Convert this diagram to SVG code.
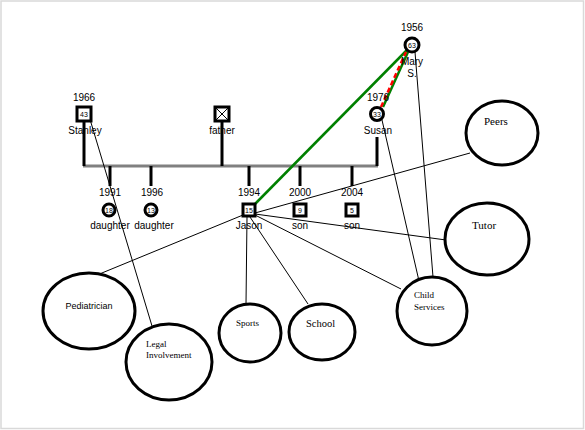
<svg xmlns="http://www.w3.org/2000/svg" width="585" height="430" viewBox="0 0 585 430">
<style>
.lbl{font-family:"Liberation Sans",Arial,sans-serif;font-size:10px;fill:#000;text-anchor:middle}
.age{font-family:"Liberation Sans",Arial,sans-serif;font-size:7px;fill:#000;text-anchor:middle}
.ser{font-family:"Liberation Serif","Times New Roman",serif;font-size:10px;fill:#000}
.eco{fill:#fff;stroke:#000;stroke-width:3}
.thin{stroke:#000;stroke-width:1;fill:none}
.stem{stroke:#000;stroke-width:3}
.m{fill:#fff;stroke:#000;stroke-width:3}
</style>
<rect x="1" y="1" width="582.5" height="427.5" fill="#fff" stroke="#d9d9d9" stroke-width="1.5"/>
<g id="connectors">
<line x1="83" y1="166" x2="378" y2="166" stroke="#808080" stroke-width="3"/>
<line class="stem" x1="84" y1="122" x2="84" y2="166"/>
<line class="stem" x1="222" y1="122" x2="222" y2="166"/>
<line class="stem" x1="377" y1="137" x2="377" y2="166"/>
<line class="stem" x1="110" y1="166" x2="110" y2="186"/>
<line class="stem" x1="151" y1="166" x2="151" y2="186"/>
<line class="stem" x1="249" y1="166" x2="249" y2="186"/>
<line class="stem" x1="300" y1="166" x2="300" y2="186"/>
<line class="stem" x1="352" y1="166" x2="352" y2="186"/>
<line x1="255" y1="204" x2="407" y2="50" stroke="#008000" stroke-width="2.5"/>
<line x1="383" y1="107" x2="408" y2="52" stroke="#008000" stroke-width="2.5"/>
<line x1="381" y1="107" x2="406" y2="52" stroke="#ff0000" stroke-width="2.5" stroke-dasharray="5,3"/>
<line class="thin" x1="415" y1="52" x2="433" y2="277"/>
<line class="thin" x1="382" y1="120" x2="419" y2="281"/>
<line class="thin" x1="89" y1="116" x2="152" y2="326"/>
<line class="thin" x1="255" y1="213" x2="470" y2="153"/>
<line class="thin" x1="255" y1="214" x2="446" y2="240"/>
<line class="thin" x1="255" y1="215" x2="401" y2="289"/>
<line class="thin" x1="243" y1="215" x2="97" y2="275"/>
<line class="thin" x1="247" y1="217" x2="246" y2="304"/>
<line class="thin" x1="250" y1="217" x2="308" y2="304"/>
</g>
<g id="mary">
<circle class="m" cx="412" cy="45" r="7"/>
<text class="age" x="412" y="47.5">63</text>
<text class="lbl" x="412" y="31">1956</text>
<text class="lbl" x="412" y="65">Mary</text>
<text class="lbl" x="412" y="77">S.</text>
</g>
<g id="susan">
<circle class="m" cx="377" cy="114" r="6.5"/>
<text class="age" x="377" y="116.5">33</text>
<text class="lbl" x="378" y="101">1976</text>
<text class="lbl" x="378" y="134">Susan</text>
</g>
<g id="stanley">
<rect class="m" x="77" y="107" width="14" height="14"/>
<text class="age" x="84" y="116.5">43</text>
<text class="lbl" x="84" y="101">1966</text>
<text class="lbl" x="85" y="134">Stanley</text>
</g>
<g id="father">
<rect class="m" x="215" y="107" width="14" height="14"/>
<path d="M215 107L229 121M229 107L215 121" stroke="#000" stroke-width="1"/>
<text class="lbl" x="222" y="134">father</text>
</g>
<g id="daughter1991">
<circle class="m" cx="109" cy="210" r="6"/>
<text class="age" x="109" y="212.5">18</text>
<text class="lbl" x="110" y="196">1991</text>
<text class="lbl" x="110" y="229">daughter</text>
</g>
<g id="daughter1996">
<circle class="m" cx="151" cy="210" r="6"/>
<text class="age" x="151" y="212.5">13</text>
<text class="lbl" x="152" y="196">1996</text>
<text class="lbl" x="154" y="229">daughter</text>
</g>
<g id="jason">
<rect class="m" x="243" y="204" width="12" height="12"/>
<text class="age" x="249" y="212.5">15</text>
<text class="lbl" x="249" y="196">1994</text>
<text class="lbl" x="249" y="229">Jason</text>
</g>
<g id="son2000">
<rect class="m" x="294" y="204" width="12" height="12"/>
<text class="age" x="300" y="212.5">9</text>
<text class="lbl" x="300" y="196">2000</text>
<text class="lbl" x="300" y="229">son</text>
</g>
<g id="son2004">
<rect class="m" x="346" y="204" width="12" height="12"/>
<text class="age" x="352" y="212.5">5</text>
<text class="lbl" x="352" y="196">2004</text>
<text class="lbl" x="352" y="229">son</text>
</g>
<g id="peers">
<ellipse class="eco" cx="502" cy="133" rx="36" ry="32"/>
<text class="ser" x="484" y="125" style="font-size:11px">Peers</text>
</g>
<g id="tutor">
<ellipse class="eco" cx="487" cy="239" rx="42" ry="36"/>
<text class="ser" x="472" y="229" style="font-size:11px">Tutor</text>
</g>
<g id="childservices">
<ellipse class="eco" cx="432" cy="311" rx="35" ry="34"/>
<text class="ser" x="414" y="298" style="font-size:9px">Child</text>
<text class="ser" x="414" y="310" style="font-size:9px">Services</text>
</g>
<g id="pediatrician">
<ellipse class="eco" cx="89" cy="311" rx="46" ry="38"/>
<text class="lbl" x="89" y="309" style="font-size:9px">Pediatrician</text>
</g>
<g id="legal">
<ellipse class="eco" cx="169" cy="362" rx="43" ry="38"/>
<text class="ser" x="146" y="347" style="font-size:9px">Legal</text>
<text class="ser" x="146" y="358" style="font-size:9px">Involvement</text>
</g>
<g id="sports">
<ellipse class="eco" cx="250" cy="333" rx="31" ry="29"/>
<text class="ser" x="236" y="326" style="font-size:9px">Sports</text>
</g>
<g id="school">
<ellipse class="eco" cx="322" cy="332" rx="33" ry="28"/>
<text class="ser" x="306" y="327" style="font-size:10.5px">School</text>
</g>
</svg>
